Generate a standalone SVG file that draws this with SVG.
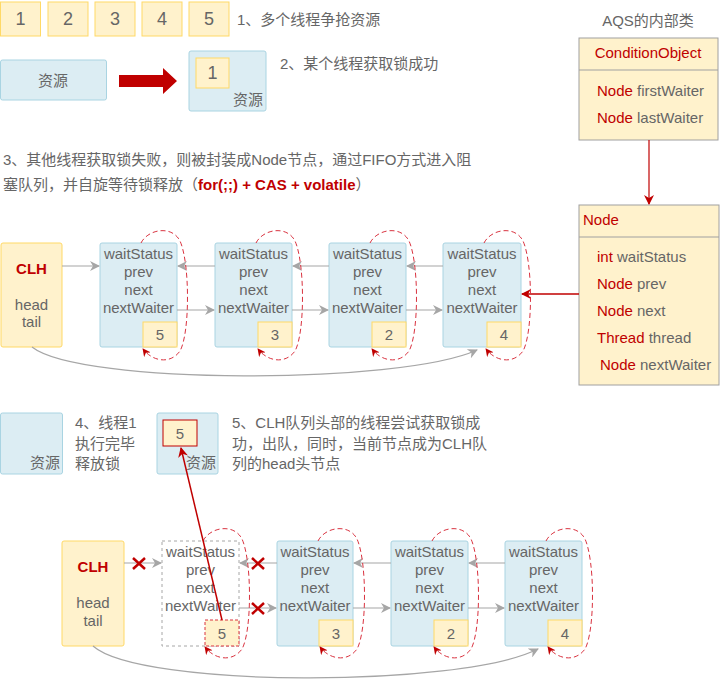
<svg xmlns="http://www.w3.org/2000/svg" width="720" height="684" viewBox="0 0 720 684">
<style>
text{font-family:"Liberation Sans",Arial,"Noto Sans CJK SC",sans-serif;font-size:15px;fill:#666;}
.c{text-anchor:middle;dominant-baseline:central;}
.l{dominant-baseline:central;}
.r{fill:#c00000;}
.b{font-weight:bold;}
.big{font-size:18px;}
.y{fill:#fff2cc;stroke:#ffd966;stroke-width:1;}
.bl{fill:#dcedf3;stroke:#a9d4e2;stroke-width:1;}
.cls{fill:#fff2cc;stroke:#a0a0a0;stroke-width:1;}
.g{fill:none;stroke:#a6a6a6;stroke-width:1.2;}
.loop{fill:none;stroke:#d9323f;stroke-width:1;stroke-dasharray:5,3;}
.x{stroke:#c00000;stroke-width:2.5;fill:none;}
</style>
<defs>
<marker id="ag" viewBox="0 0 10 10" refX="9" refY="5" markerWidth="11" markerHeight="10" markerUnits="userSpaceOnUse" orient="auto"><path d="M0,0 L10,5 L0,10 L3,5 z" fill="#a6a6a6"/></marker>
<marker id="ar" viewBox="0 0 10 10" refX="9" refY="5" markerWidth="10" markerHeight="10" markerUnits="userSpaceOnUse" orient="auto"><path d="M0,0 L10,5 L0,10 L3,5 z" fill="#c00000"/></marker>
<marker id="al" viewBox="0 0 10 10" refX="9" refY="5" markerWidth="8" markerHeight="8" markerUnits="userSpaceOnUse" orient="auto"><path d="M0,0 L10,5 L0,10 L3,5 z" fill="#c00000"/></marker>
<path id="lp" class="loop" d="M41,0 C48,-14 72,-18 80,-2 C90,20 90,90 80,108 C70,122 52,118 43,106" marker-end="url(#al)"/>
</defs>
<rect width="720" height="684" fill="#ffffff"/>

<!-- step 1 -->
<g id="t1"><rect class="y" x="0.5" y="2" width="40" height="34"/><text class="c big" x="20.5" y="19">1</text></g>
<g id="t2"><rect class="y" x="48" y="2" width="40" height="34"/><text class="c big" x="68" y="19">2</text></g>
<g id="t3"><rect class="y" x="95" y="2" width="40" height="34"/><text class="c big" x="115" y="19">3</text></g>
<g id="t4"><rect class="y" x="142" y="2" width="40" height="34"/><text class="c big" x="162" y="19">4</text></g>
<g id="t5"><rect class="y" x="189" y="2" width="40" height="34"/><text class="c big" x="209" y="19">5</text></g>
<text class="l" x="237" y="19">1、多个线程争抢资源</text>

<!-- step 2 -->
<g id="res1"><rect class="bl" x="0.5" y="60" width="106" height="40" rx="2"/><text class="c" x="53" y="80">资源</text></g>
<polygon points="119,75 163,75 163,68 177,81 163,94 163,87 119,87" fill="#c00000"/>
<g id="res2"><rect class="bl" x="189" y="51" width="77" height="60" rx="2"/><rect class="y" x="196" y="58" width="33" height="30"/><text class="c big" x="212.5" y="73">1</text><text class="c" x="248" y="99">资源</text></g>
<text class="l" x="280" y="63">2、某个线程获取锁成功</text>

<!-- class boxes -->
<text class="c" x="648" y="20">AQS的内部类</text>
<g id="condobj"><rect class="cls" x="579" y="38" width="139" height="102"/><line x1="579" y1="70" x2="718" y2="70" stroke="#a0a0a0"/>
<text class="c r" x="648" y="52">ConditionObject</text>
<text class="l" x="597" y="90"><tspan class="r">Node</tspan> firstWaiter</text>
<text class="l" x="597" y="117"><tspan class="r">Node</tspan> lastWaiter</text></g>
<g id="nodecls"><rect class="cls" x="579" y="205" width="140" height="180"/><line x1="579" y1="237" x2="719" y2="237" stroke="#a0a0a0"/>
<text class="l r" x="583" y="219">Node</text>
<text class="l" x="597" y="256"><tspan class="r">int</tspan> waitStatus</text>
<text class="l" x="597" y="283"><tspan class="r">Node</tspan> prev</text>
<text class="l" x="597" y="310"><tspan class="r">Node</tspan> next</text>
<text class="l" x="597" y="337"><tspan class="r">Thread</tspan> thread</text>
<text class="l" x="600" y="364"><tspan class="r">Node</tspan> nextWaiter</text></g>

<!-- step 3 text -->
<text class="l" x="3" y="159">3、其他线程获取锁失败，则被封装成Node节点，通过FIFO方式进入阻</text>
<text class="l" x="3" y="184">塞队列，并自旋等待锁释放（<tspan class="r b">for(;;) + CAS + volatile</tspan>）</text>

<!-- top chain -->
<g id="clh1"><rect class="y" x="1" y="243" width="61" height="104" rx="2"/><text class="c r b" x="31.5" y="268">CLH</text><text class="c" x="31.5" y="304">head</text><text class="c" x="31.5" y="321">tail</text></g>
<g id="n5a"><rect class="bl" x="100" y="243" width="77" height="104" rx="2"/><rect class="y" x="143" y="322" width="34" height="25"/>
<text class="c" x="138.5" y="253">waitStatus</text><text class="c" x="138.5" y="271">prev</text><text class="c" x="138.5" y="289">next</text><text class="c" x="138.5" y="307">nextWaiter</text><text class="c" x="160" y="334.5">5</text></g>
<g id="n3a"><rect class="bl" x="215" y="243" width="77" height="104" rx="2"/><rect class="y" x="258" y="322" width="34" height="25"/>
<text class="c" x="253.5" y="253">waitStatus</text><text class="c" x="253.5" y="271">prev</text><text class="c" x="253.5" y="289">next</text><text class="c" x="253.5" y="307">nextWaiter</text><text class="c" x="275" y="334.5">3</text></g>
<g id="n2a"><rect class="bl" x="329" y="243" width="77" height="104" rx="2"/><rect class="y" x="372" y="322" width="34" height="25"/>
<text class="c" x="367.5" y="253">waitStatus</text><text class="c" x="367.5" y="271">prev</text><text class="c" x="367.5" y="289">next</text><text class="c" x="367.5" y="307">nextWaiter</text><text class="c" x="389" y="334.5">2</text></g>
<g id="n4a"><rect class="bl" x="443" y="243" width="78" height="104" rx="2"/><rect class="y" x="487" y="322" width="34" height="25"/>
<text class="c" x="482" y="253">waitStatus</text><text class="c" x="482" y="271">prev</text><text class="c" x="482" y="289">next</text><text class="c" x="482" y="307">nextWaiter</text><text class="c" x="504" y="334.5">4</text></g>

<!-- step 4/5 -->
<g id="res3"><rect class="bl" x="0.5" y="413" width="62" height="61" rx="2"/><text class="c" x="45" y="462">资源</text></g>
<text class="l" x="75" y="422">4、线程1</text>
<text class="l" x="75" y="443">执行完毕</text>
<text class="l" x="75" y="463">释放锁</text>
<g id="res4"><rect class="bl" x="157" y="413" width="61" height="61" rx="2"/><rect x="163" y="420" width="34" height="26" fill="#fff2cc" stroke="#c00000" stroke-width="1"/><text class="c" x="180" y="433">5</text><text class="c" x="201" y="462">资源</text></g>
<text class="l" x="232" y="422">5、CLH队列头部的线程尝试获取锁成</text>
<text class="l" x="232" y="443">功，出队，同时，当前节点成为CLH队</text>
<text class="l" x="232" y="463">列的head头节点</text>

<!-- bottom chain -->
<g id="clh2"><rect class="y" x="62" y="541" width="62" height="105" rx="2"/><text class="c r b" x="93" y="566">CLH</text><text class="c" x="93" y="602">head</text><text class="c" x="93" y="620">tail</text></g>
<g id="n5b"><rect x="162" y="541" width="77" height="105" fill="#ffffff" stroke="#a6a6a6" stroke-dasharray="3,3"/><rect x="205" y="620" width="34" height="26" fill="#fff2cc" stroke="#d9323f" stroke-dasharray="3,2"/>
<text class="c" x="200.5" y="551">waitStatus</text><text class="c" x="200.5" y="569">prev</text><text class="c" x="200.5" y="587">next</text><text class="c" x="200.5" y="605">nextWaiter</text><text class="c" x="222" y="633">5</text></g>
<g id="n3b"><rect class="bl" x="277" y="541" width="76" height="105" rx="2"/><rect class="y" x="319" y="620" width="34" height="26"/>
<text class="c" x="315" y="551">waitStatus</text><text class="c" x="315" y="569">prev</text><text class="c" x="315" y="587">next</text><text class="c" x="315" y="605">nextWaiter</text><text class="c" x="336" y="633">3</text></g>
<g id="n2b"><rect class="bl" x="391" y="541" width="77" height="105" rx="2"/><rect class="y" x="434" y="620" width="34" height="26"/>
<text class="c" x="429.5" y="551">waitStatus</text><text class="c" x="429.5" y="569">prev</text><text class="c" x="429.5" y="587">next</text><text class="c" x="429.5" y="605">nextWaiter</text><text class="c" x="451" y="633">2</text></g>
<g id="n4b"><rect class="bl" x="505" y="541" width="77" height="105" rx="2"/><rect class="y" x="548" y="620" width="34" height="26"/>
<text class="c" x="543.5" y="551">waitStatus</text><text class="c" x="543.5" y="569">prev</text><text class="c" x="543.5" y="587">next</text><text class="c" x="543.5" y="605">nextWaiter</text><text class="c" x="565" y="633">4</text></g>

<!-- connectors -->
<g id="connectors">
<line x1="649" y1="140" x2="649" y2="204" stroke="#c00000" stroke-width="1.2" marker-end="url(#ar)"/>
<line x1="579" y1="294" x2="522" y2="294" stroke="#c00000" stroke-width="1.5" marker-end="url(#ar)"/>
<!-- top chain -->
<line class="g" x1="62" y1="266" x2="99" y2="266" marker-end="url(#ag)"/>
<line class="g" x1="215" y1="266" x2="178" y2="266" marker-end="url(#ag)"/>
<line class="g" x1="329" y1="266" x2="293" y2="266" marker-end="url(#ag)"/>
<line class="g" x1="443" y1="266" x2="407" y2="266" marker-end="url(#ag)"/>
<line class="g" x1="177" y1="310" x2="214" y2="310" marker-end="url(#ag)"/>
<line class="g" x1="292" y1="310" x2="328" y2="310" marker-end="url(#ag)"/>
<line class="g" x1="406" y1="310" x2="442" y2="310" marker-end="url(#ag)"/>
<path class="g" d="M32,347 C80,385 400,385 477,350" marker-end="url(#ag)"/>
<use href="#lp" x="100" y="243"/>
<use href="#lp" x="215" y="243"/>
<use href="#lp" x="329" y="243"/>
<use href="#lp" x="443" y="243"/>
<!-- bottom chain -->
<line class="g" x1="124" y1="563" x2="161" y2="563" marker-end="url(#ag)"/>
<line class="g" x1="277" y1="563" x2="240" y2="563" marker-end="url(#ag)"/>
<line class="g" x1="391" y1="563" x2="354" y2="563" marker-end="url(#ag)"/>
<line class="g" x1="505" y1="563" x2="469" y2="563" marker-end="url(#ag)"/>
<line class="g" x1="239" y1="608" x2="276" y2="608" marker-end="url(#ag)"/>
<line class="g" x1="353" y1="608" x2="390" y2="608" marker-end="url(#ag)"/>
<line class="g" x1="468" y1="608" x2="504" y2="608" marker-end="url(#ag)"/>
<path class="g" d="M93,646 C140,688 460,688 538,649" marker-end="url(#ag)"/>
<use href="#lp" x="162" y="541"/>
<use href="#lp" x="277" y="541"/>
<use href="#lp" x="391" y="541"/>
<use href="#lp" x="505" y="541"/>
<path class="x" d="M133,558 L145,569 M145,558 L133,569"/>
<path class="x" d="M252,558 L264,569 M264,558 L252,569"/>
<path class="x" d="M252,603 L264,614 M264,603 L252,614"/>
<line x1="222" y1="620" x2="181" y2="448" stroke="#c00000" stroke-width="1.5" marker-end="url(#ar)"/>
</g>
</svg>
